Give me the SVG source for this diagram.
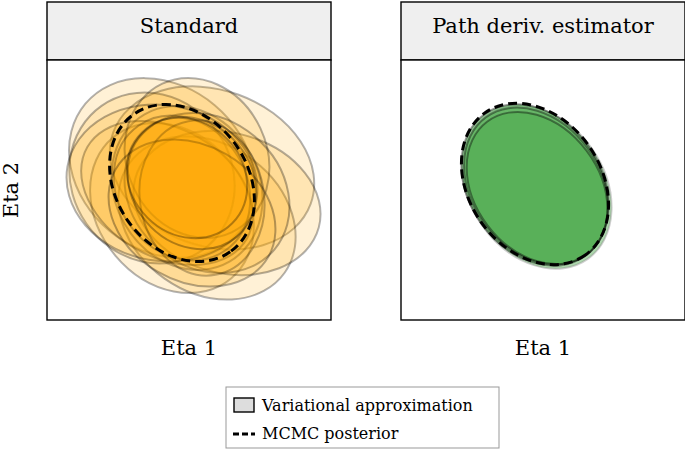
<svg xmlns="http://www.w3.org/2000/svg" width="685" height="453" viewBox="0 0 685 453">
<style>
text{font-family:"DejaVu Serif","Liberation Serif",serif;fill:#000}
.t{font-size:21px}
.f{stroke:#000;stroke-width:1.4}
.o{fill:#ffa500;fill-opacity:0.16;stroke:#000;stroke-opacity:0.3;stroke-width:2}
.g{fill:#4aa84a;fill-opacity:0.45;stroke:#000;stroke-opacity:0.4;stroke-width:2}
.d{fill:none;stroke:#000;stroke-width:3;stroke-dasharray:9,5}
</style>
<rect width="685" height="453" fill="#fff"/>
<g id="panel-standard">
<rect x="47" y="2" width="284" height="58" fill="#efefef" class="f"/>
<text x="189" y="33" class="t" text-anchor="middle">Standard</text>
<rect x="47" y="60" width="284" height="260" fill="#fff" class="f"/>
<g transform="translate(182,183)">
<ellipse class="o" rx="100" ry="82" transform="translate(-20,-15) rotate(40)"/>
<ellipse class="o" rx="105" ry="78" transform="translate(30,-15) rotate(20)"/>
<ellipse class="o" rx="92" ry="74" transform="translate(-10,25) rotate(50)"/>
<ellipse class="o" rx="95" ry="74" transform="translate(25,35) rotate(35)"/>
<ellipse class="o" rx="88" ry="80" transform="translate(-30,-5) rotate(55)"/>
<ellipse class="o" rx="95" ry="70" transform="translate(45,20) rotate(15)"/>
<ellipse class="o" rx="85" ry="72" transform="translate(5,5) rotate(60)"/>
<ellipse class="o" rx="92" ry="64" transform="translate(-15,10) rotate(30)"/>
<ellipse class="o" rx="82" ry="70" transform="translate(15,-25) rotate(65)"/>
<ellipse class="o" rx="88" ry="74" transform="translate(25,10) rotate(40)"/>
<ellipse class="o" rx="76" ry="64" transform="translate(0,5) rotate(55)"/>
<ellipse class="o" rx="96" ry="78" transform="translate(-20,0) rotate(10)"/>
<ellipse class="o" rx="78" ry="62" transform="translate(20,15) rotate(80)"/>
<ellipse class="o" rx="88" ry="68" transform="translate(10,30) rotate(30)"/>
<ellipse class="o" rx="70" ry="60" transform="translate(10,0) rotate(50)"/>
<ellipse class="o" rx="64" ry="56" transform="translate(5,-5) rotate(45)"/>
<ellipse class="d" rx="84" ry="66" transform="rotate(55)"/>
</g>
<text x="189" y="355" class="t" text-anchor="middle">Eta 1</text>
</g>
<g id="panel-path">
<rect x="401" y="2" width="284" height="58" fill="#efefef" class="f"/>
<text x="543" y="33" class="t" text-anchor="middle">Path deriv. estimator</text>
<rect x="401" y="60" width="284" height="260" fill="#fff" class="f"/>
<g transform="translate(535,184)">
<ellipse class="g" rx="88" ry="67" transform="translate(2,3) rotate(55)" style="stroke:#888"/>
<ellipse class="g" rx="87" ry="66" transform="translate(0,1) rotate(55)"/>
<ellipse class="g" rx="85" ry="64" transform="translate(1,2) rotate(54)"/>
<ellipse class="g" rx="83" ry="62" transform="translate(2,4) rotate(53)"/>
<ellipse class="d" rx="87" ry="66" transform="rotate(55)"/>
</g>
<text x="543" y="355" class="t" text-anchor="middle">Eta 1</text>
</g>
<text class="t" transform="translate(18,190) rotate(-90)" text-anchor="middle">Eta 2</text>
<g id="legend">
<rect x="226" y="387" width="273" height="61" fill="#fff" stroke="#999" stroke-width="1"/>
<rect x="234" y="398" width="20" height="14" fill="#ddd" stroke="#000" stroke-width="1.4"/>
<text x="262" y="411" font-size="16">Variational approximation</text>
<line x1="233" y1="434" x2="255" y2="434" stroke="#000" stroke-width="3" stroke-dasharray="6,3"/>
<text x="262" y="439" font-size="16">MCMC posterior</text>
</g>
</svg>
